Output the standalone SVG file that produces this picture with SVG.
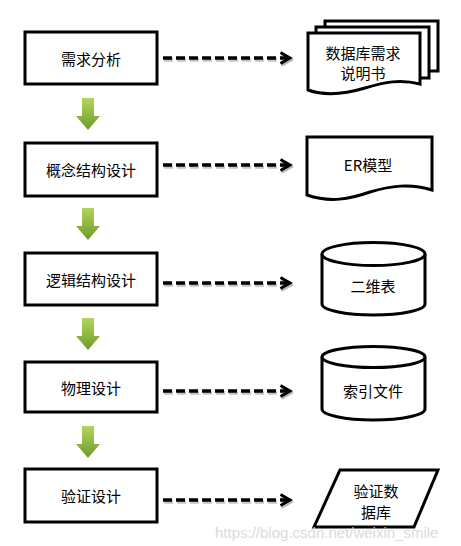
<svg xmlns="http://www.w3.org/2000/svg" width="461" height="546" viewBox="0 0 461 546">
<defs>
<linearGradient id="g" x1="0" y1="0" x2="0" y2="1">
<stop offset="0" stop-color="#b3d65a"/>
<stop offset="1" stop-color="#6b9a2c"/>
</linearGradient>
<marker id="chev" viewBox="0 0 10 10" refX="8" refY="5" markerWidth="4" markerHeight="4" orient="auto" markerUnits="strokeWidth">
<path d="M1,1 L8,5 L1,9" fill="none" stroke="#000" stroke-width="2.2"/>
</marker>
<marker id="chevs" viewBox="0 0 10 10" refX="8" refY="5" markerWidth="4" markerHeight="4" orient="auto" markerUnits="strokeWidth">
<path d="M1,1 L8,5 L1,9" fill="none" stroke="#bbb" stroke-width="2.2"/>
</marker>
</defs>
<style>
.box{fill:#fff;stroke:#000;stroke-width:3}
.t{font-family:"Noto Sans CJK SC","Liberation Sans",sans-serif;font-size:15px;fill:#000;text-anchor:middle;dominant-baseline:central}
.dash{fill:none;stroke:#000;stroke-width:3.4;stroke-dasharray:9 4;marker-end:url(#chev)}
.dsh{fill:none;stroke:#c4c4c4;stroke-width:3.4;stroke-dasharray:9 4;marker-end:url(#chevs)}
.garrow{fill:url(#g)}
</style>
<rect width="461" height="546" fill="#fff"/>

<g id="connectors">
<g transform="translate(1,2)">
<path class="dsh" d="M163,58 H290"/>
<path class="dsh" d="M163,165 H290"/>
<path class="dsh" d="M163,283 H290"/>
<path class="dsh" d="M163,391 H290"/>
<path class="dsh" d="M163,500 H290"/>
</g>
<path class="dash" d="M163,58 H290"/>
<path class="dash" d="M163,165 H290"/>
<path class="dash" d="M163,283 H290"/>
<path class="dash" d="M163,391 H290"/>
<path class="dash" d="M163,500 H290"/>
<path class="garrow" d="M82,98 H94 V116 H100 L88,130 L76,116 H82 Z"/>
<path class="garrow" d="M82,208 H94 V226 H100 L88,240 L76,226 H82 Z"/>
<path class="garrow" d="M82,318 H94 V336 H100 L88,350 L76,336 H82 Z"/>
<path class="garrow" d="M82,426 H94 V444 H100 L88,458 L76,444 H82 Z"/>
</g>

<g id="n1"><rect class="box" x="25" y="32" width="132" height="52"/><text class="t" x="91" y="58">需求分析</text></g>
<g id="n2"><rect class="box" x="25" y="143" width="132" height="53"/><text class="t" x="91" y="169">概念结构设计</text></g>
<g id="n3"><rect class="box" x="25" y="253" width="132" height="52"/><text class="t" x="91" y="279">逻辑结构设计</text></g>
<g id="n4"><rect class="box" x="25" y="362" width="132" height="50"/><text class="t" x="91" y="387">物理设计</text></g>
<g id="n5"><rect class="box" x="25" y="469" width="132" height="53"/><text class="t" x="91" y="495">验证设计</text></g>

<g id="r1">
<rect class="box" x="325" y="21" width="113" height="50"/>
<rect class="box" x="316" y="27" width="113" height="51"/>
<path class="box" d="M308,33 H420 V84 C400,79 385,82 365,88 C345,94 325,96 308,90 Z"/>
<text class="t" x="363" y="52">数据库需求</text>
<text class="t" x="363" y="72">说明书</text>
</g>

<g id="r2">
<path class="box" d="M307,137 H432 V190 C410,183 390,186 370,192 C350,199 330,203 307,195 Z"/>
<text class="t" x="368" y="164">ER模型</text>
</g>

<g id="r3">
<path class="box" d="M322,254 V304 A51.5,11 0 0 0 425,304 V254"/>
<ellipse class="box" cx="373.5" cy="254" rx="51.5" ry="11.5"/>
<text class="t" x="373" y="285">二维表</text>
</g>

<g id="r4">
<path class="box" d="M322,357 V409 A51.5,11 0 0 0 425,409 V357"/>
<ellipse class="box" cx="373.5" cy="357" rx="51.5" ry="10.5"/>
<text class="t" x="373" y="390">索引文件</text>
</g>

<g id="r5">
<path class="box" d="M340,470 H438 L414,527 H314 Z"/>
<text class="t" x="376" y="490">验证数</text>
<text class="t" x="376" y="511">据库</text>
</g>

<text x="215" y="538" font-family="Liberation Sans, Arial, sans-serif" font-size="15" fill="#d8d8d8" opacity="0.9">https://blog.csdn.net/weixin_smile</text>
</svg>
